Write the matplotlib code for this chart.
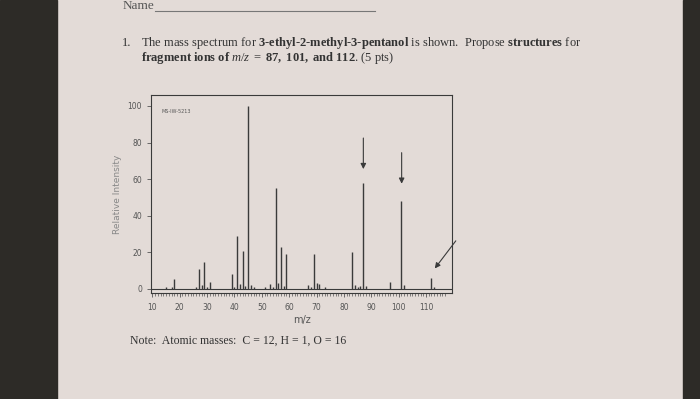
import numpy as np
import matplotlib.pyplot as plt
from matplotlib.patches import Rectangle

# spectrum peaks
mz = [15, 17, 18, 26, 27, 28, 29, 30, 31, 39, 40, 41, 42, 43, 44, 45, 46, 47,
      51, 53, 54, 55, 56, 57, 58, 59, 67, 68, 69, 70, 71, 73,
      83, 84, 85, 86, 87, 88, 97, 101, 102, 112, 113]
intensity = [1, 1, 5.5, 1, 11, 2, 15, 1, 4, 8, 1, 29, 2.5, 21, 1.5, 100, 2, 1,
             1, 2.7, 1, 55, 3.5, 23, 1.5, 19, 2, 1, 19, 3, 2.5, 1,
             20, 2, 1, 1.5, 58, 1.5, 4, 48, 2, 6, 1]
arrow_mz = [87, 101]
arrow_top = [84, 76]
xticks = [10, 20, 30, 40, 50, 60, 70, 80, 90, 100, 110]
yticks = [0, 20, 40, 60, 80, 100]

serif = 'Liberation Serif'
plt.rcParams['mathtext.fontset'] = 'custom'
plt.rcParams['mathtext.rm'] = serif
plt.rcParams['mathtext.it'] = serif + ':italic'
plt.rcParams['mathtext.bf'] = serif + ':bold'

paper = '#e3dbd7'
ink = '#3a3a3a'

fig = plt.figure(figsize=(7, 3.99), dpi=100)
fig.patch.set_facecolor(paper)

# dark edges of the photo
fig.add_artist(Rectangle((0, 0), 57 / 700, 1, transform=fig.transFigure,
                         color='#2d2b27', zorder=0))
fig.add_artist(Rectangle((683 / 700, 0), 17 / 700, 1, transform=fig.transFigure,
                         color='#2d2b27', zorder=0))

W, H = 700, 399
def fx(px):
    return px / W
def fy(py):
    return 1 - py / H

fig.text(fx(123), fy(6), 'Name', family=serif, fontsize=9.5, color='#555', va='center')
fig.add_artist(plt.Line2D([fx(155), fx(375)], [fy(11), fy(11)], color='#777', lw=0.8))

fig.text(fx(122), fy(46), '1.', family=serif, fontsize=9, color='#333', va='baseline')
fig.text(fx(141), fy(46),
         r'The mass spectrum for $\mathbf{3\text{-}ethyl\text{-}2\text{-}methyl\text{-}3\text{-}pentanol}$ is shown.  Propose $\mathbf{structures}$ for',
         family=serif, fontsize=9, color='#333', va='baseline')
fig.text(fx(141), fy(61),
         r'$\mathbf{fragment\ ions\ of}$ $\mathit{m/z}\ =\ \mathbf{87,\ 101,\ and\ 112}$. (5 pts)',
         family=serif, fontsize=9, color='#333', va='baseline')
fig.text(fx(130), fy(341), 'Note:  Atomic masses:  C = 12, H = 1, O = 16',
         family=serif, fontsize=8.5, color='#333', va='center')

ax = fig.add_axes([fx(151), fy(293), fx(452) - fx(151), fy(95) - fy(293)])
ax.set_facecolor('none')
ax.vlines(mz, 0, intensity, color=ink, lw=1.0)
ax.axhline(0, color=ink, lw=0.8)
ax.set_xlim(9.5, 119.5)
ax.set_ylim(-2.2, 106)
ax.set_xticks(xticks)
ax.set_xticks(np.arange(10, 118, 1), minor=True)
ax.set_yticks(yticks)
ax.tick_params(axis='both', colors='#555', labelsize=5.5, length=3, width=0.6)
ax.tick_params(axis='x', which='minor', length=2, width=0.5, color='#555')
ax.tick_params(axis='x', pad=4)
for s in ax.spines.values():
    s.set_color(ink)
    s.set_linewidth(0.8)
ax.set_xlabel('m/z', fontsize=7, color='#555', labelpad=2)
ax.set_ylabel('Relative Intensity', fontsize=6.5, color='#888', labelpad=4)
ax.text(13.5, 97, 'MS-IW-5213', fontsize=3.5, color='#555', va='center')

# hand drawn arrows
for m, t in zip(arrow_mz, arrow_top):
    ax.annotate('', xy=(m + 0.1, t - 20), xytext=(m + 0.1, t),
                arrowprops=dict(arrowstyle='-|>', color=ink, lw=0.8, mutation_scale=8))
ax.annotate('', xy=(112.6, 10), xytext=(121.5, 27.5),
            arrowprops=dict(arrowstyle='-|>', color=ink, lw=0.8, mutation_scale=8),
            annotation_clip=False)

fig.savefig('out.png', dpi=100, facecolor=fig.get_facecolor())
